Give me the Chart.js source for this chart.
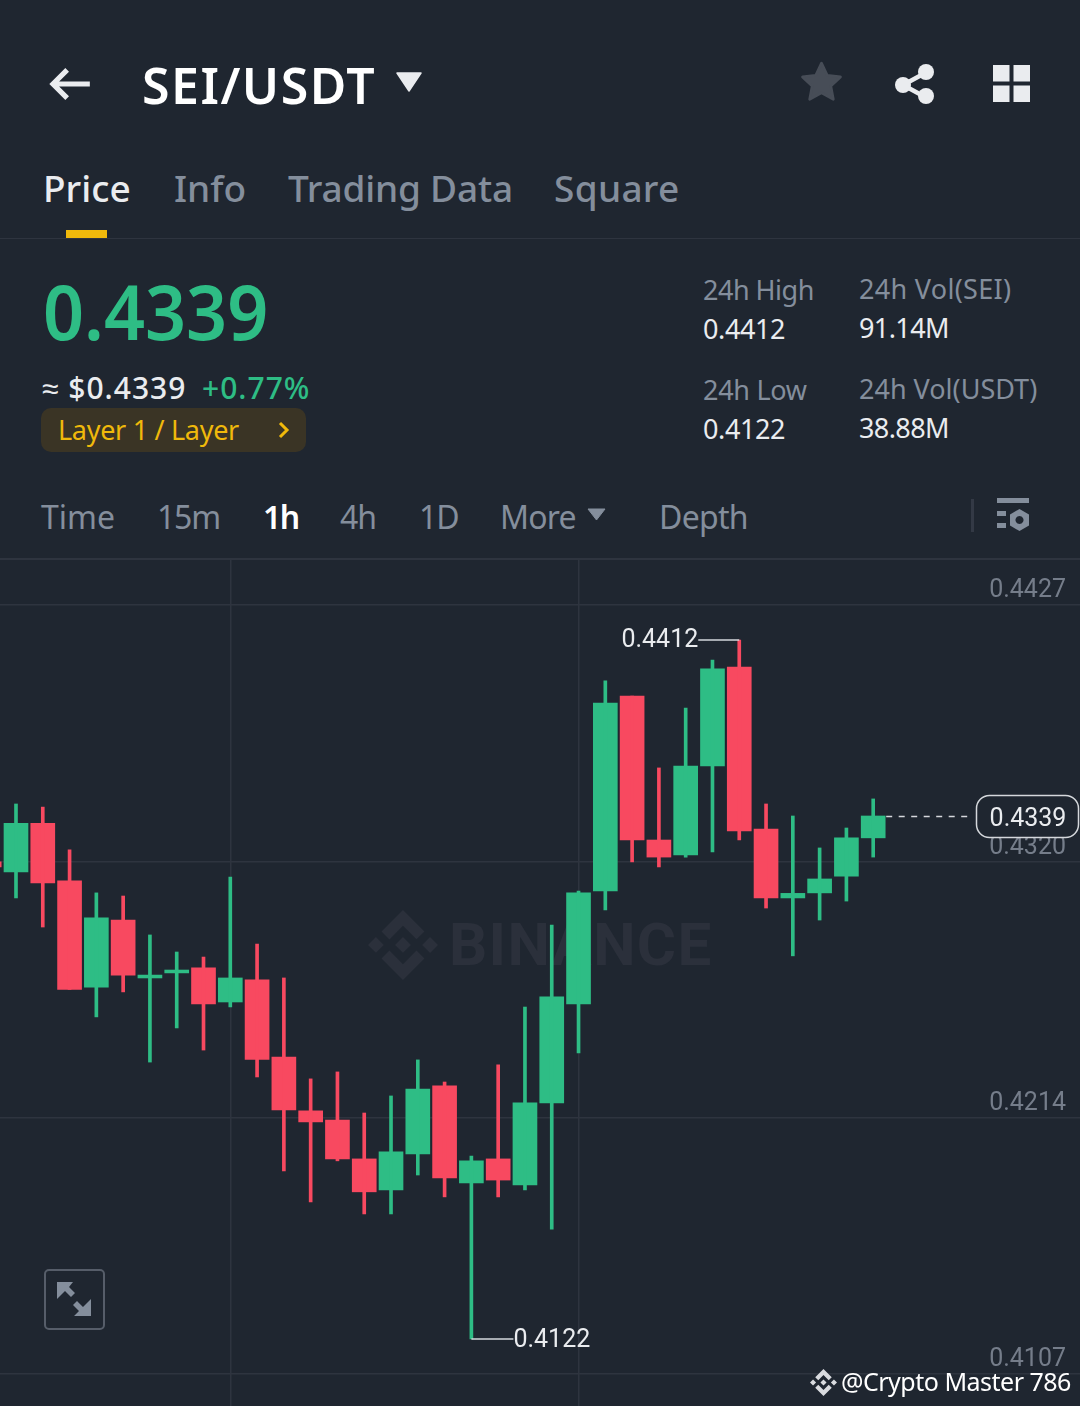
<!DOCTYPE html>
<html>
<head>
<meta charset="utf-8">
<title>SEI/USDT</title>
<script src="https://cdn.jsdelivr.net/npm/chart.js@4/dist/chart.umd.js"></script>
<style>
html, body { margin: 0; padding: 0; background: #1f2630; }
#page { position: relative; width: 1080px; height: 1406px; overflow: hidden; background: #1f2630; font-family: "Noto Sans", sans-serif; color: #eaecef; }
.t { position: absolute; white-space: nowrap; line-height: 1; }
.gray { color: #848e9c; }
.rule { position: absolute; left: 0; width: 1080px; height: 1px; background: #2e343f; }
svg { position: absolute; }
#chartBox { position: absolute; left: 0; top: 559px; width: 1080px; height: 847px; }
#myChart { display: block; }
</style>
</head>
<body>
<div id="page">
  <svg style="left:49px;top:67px" width="42" height="34" viewBox="0 0 44 36"><path d="M19 3 L4 18 L19 33 M4 18 H43" fill="none" stroke="#eaecef" stroke-width="5.5"/></svg>
  <div class="t" style="left:142px;top:60px;font-size:50px;font-weight:600;letter-spacing:1.5px;color:#fff">SEI/USDT</div>
  <svg style="left:396px;top:72px" width="26" height="20"><path d="M1 1 H25 L13 19 Z" fill="#eaecef" stroke="#eaecef" stroke-linejoin="round" stroke-width="1.5"/></svg>
  <svg style="left:800px;top:61px" width="43" height="43" viewBox="0 0 24 24"><path d="M12 1.2 L15.2 8 L22.6 8.9 L17.2 14 L18.6 21.4 L12 17.8 L5.4 21.4 L6.8 14 L1.4 8.9 L8.8 8 Z" fill="#474d57" stroke="#474d57" stroke-width="1.5" stroke-linejoin="round"/></svg>
  <svg style="left:894px;top:62px" width="42" height="44"><path d="M33 10 L9 23 L33 36" fill="none" stroke="#eaecef" stroke-width="4.5"/><circle cx="32" cy="10" r="8" fill="#eaecef"/><circle cx="9" cy="23" r="8" fill="#eaecef"/><circle cx="32" cy="34" r="8" fill="#eaecef"/></svg>
  <svg style="left:993px;top:65px" width="38" height="38"><g fill="#eaecef"><rect width="16.5" height="16.5"/><rect x="20.5" width="16.5" height="16.5"/><rect y="20.5" width="16.5" height="16.5"/><rect x="20.5" y="20.5" width="16.5" height="16.5"/></g></svg>

  <div class="t" style="left:43px;top:169px;font-size:37px;font-weight:500;color:#eaecef">Price</div>
  <div class="t gray" style="left:174px;top:169px;font-size:37px;font-weight:500">Info</div>
  <div class="t gray" style="left:288px;top:169px;font-size:37px;font-weight:500;letter-spacing:-0.2px">Trading Data</div>
  <div class="t gray" style="left:554px;top:169px;font-size:37px;font-weight:500;letter-spacing:0.3px">Square</div>
  <div style="position:absolute;left:66px;top:230px;width:41px;height:8px;background:#f0b90b"></div>
  <div class="rule" style="top:238px"></div>

  <div class="t" style="left:43px;top:273px;font-size:76px;font-weight:600;transform:scaleX(0.945);transform-origin:left top;color:#2ebd85">0.4339</div>
  <div class="t" style="left:42px;top:373px;font-size:30px;font-weight:500;letter-spacing:1px">≈ $0.4339</div>
  <div class="t" style="left:202px;top:373px;font-size:30px;font-weight:500;letter-spacing:1px;color:#2ebd85">+0.77%</div>
  <div style="position:absolute;left:41px;top:408px;width:265px;height:44px;border-radius:10px;background:#3a3425"></div>
  <div class="t" style="left:58px;top:416px;font-size:27px;letter-spacing:-0.3px;color:#f0b90b">Layer 1 / Layer</div>
  <svg style="left:277px;top:421px" width="14" height="18"><path d="M3 2 L10 9 L3 16" fill="none" stroke="#f0b90b" stroke-width="3"/></svg>

  <div class="t gray" style="left:703px;top:276px;font-size:27px;letter-spacing:-0.5px">24h High</div>
  <div class="t" style="left:703px;top:315px;font-size:27px;letter-spacing:-0.4px">0.4412</div>
  <div class="t gray" style="left:859px;top:275px;font-size:27px;letter-spacing:0.3px">24h Vol(SEI)</div>
  <div class="t" style="left:859px;top:314px;font-size:27px;letter-spacing:-0.6px">91.14M</div>
  <div class="t gray" style="left:703px;top:376px;font-size:27px;letter-spacing:-0.3px">24h Low</div>
  <div class="t" style="left:703px;top:415px;font-size:27px;letter-spacing:-0.4px">0.4122</div>
  <div class="t gray" style="left:859px;top:375px;font-size:27px">24h Vol(USDT)</div>
  <div class="t" style="left:859px;top:414px;font-size:27px;letter-spacing:-0.6px">38.88M</div>

  <div class="t gray" style="left:41px;top:501px;font-size:32px">Time</div>
  <div class="t gray" style="left:157px;top:501px;font-size:32px;letter-spacing:-1.2px">15m</div>
  <div class="t" style="left:263px;top:501px;font-size:32px;font-weight:600;letter-spacing:-1.5px;color:#fff">1h</div>
  <div class="t gray" style="left:340px;top:501px;font-size:32px;letter-spacing:-1px">4h</div>
  <div class="t gray" style="left:419px;top:501px;font-size:32px;letter-spacing:-1px">1D</div>
  <div class="t gray" style="left:500px;top:501px;font-size:32px;letter-spacing:-0.8px">More</div>
  <svg style="left:587px;top:508px" width="19" height="14"><path d="M1 1 H18 L9.5 12 Z" fill="#848e9c" stroke="#848e9c" stroke-linejoin="round"/></svg>
  <div class="t gray" style="left:659px;top:501px;font-size:32px;letter-spacing:-0.7px">Depth</div>
  <div style="position:absolute;left:971px;top:499px;width:3px;height:33px;background:#333945"></div>
  <svg style="left:997px;top:498px" width="34" height="36"><g fill="#848e9c"><rect width="32" height="5"/><rect y="13" width="9" height="5"/><rect y="25" width="9" height="5"/><path d="M22.5 11 L32 16.5 V27.5 L22.5 33 L13 27.5 V16.5 Z M22.5 18 a4 4 0 1 0 0.01 0 Z" fill-rule="evenodd"/></g></svg>
  <div class="rule" style="top:558px;height:2px"></div>

  <svg style="left:368px;top:910px" width="70" height="70" viewBox="0 0 24 24"><path fill="#2b303b" d="M16.624 13.9202l2.7175 2.7154-7.353 7.353-7.353-7.352 2.7175-2.7164 4.6355 4.6595 4.6356-4.6595zm4.6366-4.6366L24 12l-2.7154 2.7164L18.5682 12l2.6924-2.7164zm-9.272.001l2.7163 2.6914-2.7164 2.7174v-.001L9.2721 12l2.7164-2.7154zm-9.2722-.001L5.4088 12l-2.6914 2.6924L0 12l2.7164-2.7164zM11.9885.0115l7.353 7.329-2.7174 2.7154-4.6356-4.6356-4.6355 4.6595-2.7174-2.7154 7.353-7.353z"/></svg>
  <div class="t" style="left:449px;top:915px;font-family:Roboto;font-size:60px;font-weight:700;letter-spacing:1.3px;color:#2b303b">BINANCE</div>

  <div id="chartBox"><canvas id="myChart" width="1080" height="847"></canvas></div>

  <div style="position:absolute;left:44px;top:1269px;width:57px;height:57px;border:2px solid #565d69;border-radius:5px"></div>
  <svg style="left:56px;top:1281px" width="36" height="36"><g fill="#848e9c"><path d="M1 1 H17 L13 6 L19 12 L15 16 L9 10 L1 18 Z"/><path d="M35 35 H18 L23 30 L17 24 L21 20 L27 26 L35 18 Z"/></g></svg>

  <svg style="left:810px;top:1369px" width="27" height="27" viewBox="0 0 24 24"><path fill="#d9dbdf" d="M16.624 13.9202l2.7175 2.7154-7.353 7.353-7.353-7.352 2.7175-2.7164 4.6355 4.6595 4.6356-4.6595zm4.6366-4.6366L24 12l-2.7154 2.7164L18.5682 12l2.6924-2.7164zm-9.272.001l2.7163 2.6914-2.7164 2.7174v-.001L9.2721 12l2.7164-2.7154zm-9.2722-.001L5.4088 12l-2.6914 2.6924L0 12l2.7164-2.7164zM11.9885.0115l7.353 7.329-2.7174 2.7154-4.6356-4.6356-4.6355 4.6595-2.7174-2.7154 7.353-7.353z"/></svg>
  <div class="t" style="left:841px;top:1369px;font-size:25px;letter-spacing:-0.5px;color:#fff">@Crypto Master 786</div>
</div>

<script>
// hourly candles, oldest first. first one is cut off by the left edge
var candleIndex = [0,1,2,3,4,5,6,7,8,9,10,11,12,13,14,15,16,17,18,19,20,21,22,23,24,25,26,27,28,29,30,31,32,33];
var opens  = [.43201,.43159,.43361,.43122,.42680,.42959,.42718,.42739,.42760,.42618,.42710,.42389,.42165,.42127,.41965,.41836,.41986,.42269,.41865,.41965,.41857,.42198,.42610,.43080,.43891,.43292,.43230,.43600,.44012,.43338,.43051,.43072,.43142,.43301];
var closes = [.43180,.43361,.43113,.42670,.42968,.42730,.42730,.42751,.42610,.42718,.42379,.42169,.42119,.41965,.41828,.41994,.42256,.41886,.41957,.41877,.42198,.42639,.43072,.43862,.43292,.43221,.43600,.44004,.43330,.43051,.43070,.43130,.43301,.43392];
var highs  = [.43210,.43442,.43429,.43251,.43072,.43059,.42897,.42826,.42805,.43138,.42859,.42718,.42298,.42327,.42156,.42227,.42377,.42285,.41977,.42356,.42597,.42938,.43080,.43954,.43891,.43592,.43841,.44041,.44124,.43442,.43392,.43259,.43342,.43463];
var lows   = [.43170,.43051,.42930,.42670,.42556,.42660,.42368,.42510,.42418,.42597,.42306,.41915,.41786,.41957,.41736,.41736,.41898,.41807,.41216,.41807,.41836,.41673,.42406,.43001,.43201,.43180,.43221,.43242,.43292,.43009,.42810,.42959,.43038,.43221];
var priceTicks = [0.4427, 0.43203, 0.42136, 0.4107];
var timeGrid = [9, 22];
var lastPrice = 0.4339;
var highIndex = 28;
var lowIndex = 18;

var UP = '#2ebd85';
var DOWN = '#f84960';
var GRID = '#2e343f';
var FONT = 'Roboto, sans-serif';

function candleColor(ctx) {
    var i = ctx.dataIndex;
    return closes[i] >= opens[i] ? UP : DOWN;
}

var priceMarks = {
    id: 'priceMarks',
    afterDraw: function (chart) {
        var c = chart.ctx;
        var xs = chart.scales.x, ys = chart.scales.y;
        c.save();
        c.font = '25px ' + FONT;
        c.textBaseline = 'middle';
        c.lineWidth = 1.5;

        // highest
        var hx = xs.getPixelForValue(highIndex), hy = ys.getPixelForValue(highs[highIndex]);
        c.strokeStyle = '#d5d8dc';
        c.beginPath(); c.moveTo(hx, hy); c.lineTo(hx - 41, hy); c.stroke();
        c.fillStyle = '#eaecef';
        c.textAlign = 'right';
        c.fillText(highs[highIndex].toFixed(4), hx - 41, hy + 1);

        // lowest
        var lx = xs.getPixelForValue(lowIndex), ly = ys.getPixelForValue(lows[lowIndex]);
        c.beginPath(); c.moveTo(lx, ly); c.lineTo(lx + 42, ly); c.stroke();
        c.textAlign = 'left';
        c.fillText(lows[lowIndex].toFixed(4), lx + 42, ly + 2);

        // last price line and box
        var py = ys.getPixelForValue(lastPrice);
        var last = candleIndex[candleIndex.length - 1];
        c.setLineDash([6, 6.5]);
        c.beginPath(); c.moveTo(xs.getPixelForValue(last) + 13, py); c.lineTo(971, py); c.stroke();
        c.setLineDash([]);
        c.beginPath();
        c.roundRect(976.5, py - 21, 102, 42, 13);
        c.fillStyle = '#1f2630';
        c.fill();
        c.strokeStyle = '#d5d8dc';
        c.stroke();
        c.fillStyle = '#eaecef';
        c.textAlign = 'center';
        c.fillText(lastPrice.toFixed(4), 1028, py + 3);
        c.restore();
    }
};

var ctx = document.getElementById('myChart').getContext('2d');
var chart = new Chart(ctx, {
    type: 'bar',
    data: {
        datasets: [{
            label: 'wick',
            data: candleIndex.map(function (x, i) { return { x: x, y: [lows[i], highs[i]] }; }),
            backgroundColor: candleColor,
            grouped: false,
            barThickness: 3
        }, {
            label: 'body',
            data: candleIndex.map(function (x, i) { return { x: x, y: [opens[i], closes[i]] }; }),
            backgroundColor: candleColor,
            grouped: false,
            barThickness: 24
        }]
    },
    options: {
        responsive: false,
        animation: false,
        devicePixelRatio: 1,
        layout: { padding: 0 },
        plugins: { legend: { display: false }, tooltip: { enabled: false } },
        scales: {
            x: {
                type: 'linear',
                offset: false,
                min: 0.403,
                max: 40.72,
                afterBuildTicks: function (s) { s.ticks = timeGrid.map(function (v) { return { value: v }; }); },
                ticks: { display: false },
                border: { display: false },
                grid: { offset: false, color: GRID, lineWidth: 1.5, drawTicks: false }
            },
            y: {
                position: 'right',
                min: 0.409368,
                max: 0.444614,
                afterBuildTicks: function (s) { s.ticks = priceTicks.map(function (v) { return { value: v }; }); },
                afterFit: function (s) { s.paddingTop = 0; s.paddingBottom = 0; s.width = 0; },
                ticks: {
                    mirror: true,
                    padding: -14,
                    labelOffset: -14,
                    color: '#757d8a',
                    font: { family: FONT, size: 25 },
                    callback: function (v) { return v.toFixed(4); }
                },
                border: { display: false },
                grid: { color: GRID, lineWidth: 1.5, drawTicks: false }
            }
        }
    },
    plugins: [priceMarks]
});
</script>
</body>
</html>
